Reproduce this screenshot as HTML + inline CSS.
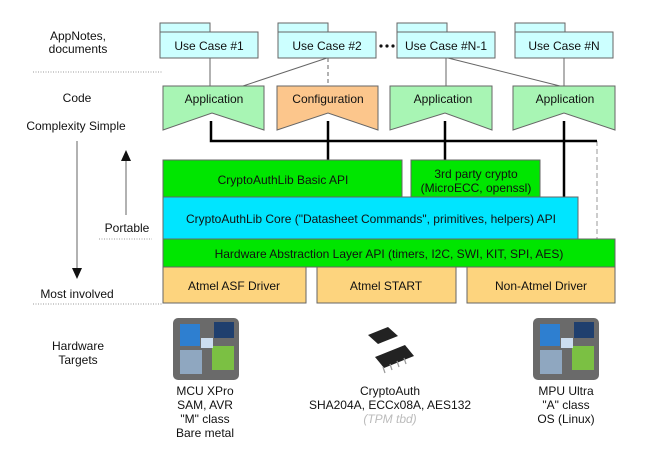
<!DOCTYPE html>
<html><head><meta charset="utf-8"><style>
html,body{margin:0;padding:0;background:#fff;}
svg{display:block;font-family:"Liberation Sans",sans-serif;}
</style></head><body>
<svg width="656" height="460" viewBox="0 0 656 460" xmlns="http://www.w3.org/2000/svg">
<g font-size="12" fill="#111">
<text x="78" y="40" text-anchor="middle">AppNotes,</text>
<text x="78" y="53" text-anchor="middle">documents</text>
<text x="77" y="102" text-anchor="middle">Code</text>
<text x="76" y="130" text-anchor="middle">Complexity Simple</text>
<text x="127" y="232" text-anchor="middle">Portable</text>
<text x="77" y="298" text-anchor="middle">Most involved</text>
<text x="78" y="350" text-anchor="middle">Hardware</text>
<text x="78" y="364" text-anchor="middle">Targets</text>
</g>
<g stroke="#999" stroke-width="1" stroke-dasharray="1,1.5">
<line x1="33" y1="72" x2="162" y2="72"/>
<line x1="99" y1="239" x2="152" y2="239"/>
<line x1="33" y1="304" x2="162" y2="304"/>
</g>
<line x1="77" y1="141" x2="77" y2="270" stroke="#999" stroke-width="1.5"/>
<polygon points="72,268 82,268 77,279" fill="#111"/>
<line x1="126" y1="215" x2="126" y2="160" stroke="#999" stroke-width="1.5"/>
<polygon points="121,161 131,161 126,150" fill="#111"/>

<g stroke="#666" stroke-width="1">
<line x1="210" y1="58" x2="210" y2="86"/>
<line x1="327" y1="58" x2="243" y2="86"/>
<line x1="328" y1="58" x2="328" y2="86" stroke-dasharray="4,3"/>
<line x1="446" y1="58" x2="446" y2="86"/>
<line x1="448" y1="58" x2="560" y2="86"/>
<line x1="564" y1="58" x2="564" y2="86"/>
<line x1="597" y1="141" x2="597" y2="240" stroke="#999" stroke-dasharray="5,3"/>
</g>
<g fill="#111"><circle cx="381" cy="46" r="1.6"/><circle cx="387" cy="46" r="1.6"/><circle cx="393" cy="46" r="1.6"/></g>

<g stroke="#666" stroke-width="1" fill="#ccffff">
<rect x="160" y="23" width="50" height="9"/><rect x="160" y="32" width="98" height="26"/>
<rect x="278" y="23" width="50" height="9"/><rect x="278" y="32" width="98" height="26"/>
<rect x="397" y="23" width="50" height="9"/><rect x="397" y="32" width="98" height="26"/>
<rect x="515" y="23" width="50" height="9"/><rect x="515" y="32" width="98" height="26"/>
</g>
<g font-size="12" fill="#111" text-anchor="middle">
<text x="209" y="50">Use Case #1</text>
<text x="327" y="50">Use Case #2</text>
<text x="446" y="50">Use Case #N-1</text>
<text x="564" y="50">Use Case #N</text>
</g>

<g stroke="#666" stroke-width="1">
<polygon points="163,86 264,86 264,130 212,113 163,130" fill="#a8f5b4"/>
<polygon points="277,86 378,86 378,130 328,113 277,130" fill="#fcc68c"/>
<polygon points="390,86 492,86 492,130 445,113 390,130" fill="#a8f5b4"/>
<polygon points="513,86 615,86 615,130 564,113 513,130" fill="#a8f5b4"/>
</g>
<g font-size="12" fill="#111" text-anchor="middle">
<text x="214" y="103">Application</text>
<text x="328" y="103">Configuration</text>
<text x="443" y="103">Application</text>
<text x="565" y="103">Application</text>
</g>

<g stroke="#000" stroke-width="2.5" fill="none">
<polyline points="211,121 211,141 597,141"/>
<line x1="328" y1="121" x2="328" y2="161"/>
<line x1="445" y1="121" x2="445" y2="161"/>
<line x1="564" y1="121" x2="564" y2="197"/>
</g>

<g stroke="#666" stroke-width="1">
<rect x="163" y="160" width="239" height="37" fill="#00e600"/>
<rect x="411" y="160" width="129" height="37" fill="#00e600"/>
<rect x="163" y="197" width="415" height="42" fill="#00e5ff"/>
<rect x="163" y="239" width="452" height="28" fill="#00e600"/>
<rect x="163" y="267" width="143" height="36" fill="#fdd47e"/>
<rect x="317" y="267" width="139" height="36" fill="#fdd47e"/>
<rect x="467" y="267" width="148" height="36" fill="#fdd47e"/>
</g>
<g font-size="12" fill="#111" text-anchor="middle">
<text x="283" y="184">CryptoAuthLib Basic API</text>
<text x="476" y="178">3rd party crypto</text>
<text x="476" y="192">(MicroECC, openssl)</text>
<text x="371" y="223">CryptoAuthLib Core ("Datasheet Commands", primitives, helpers) API</text>
<text x="389" y="258">Hardware Abstraction Layer API (timers, I2C, SWI, KIT, SPI, AES)</text>
<text x="234" y="290">Atmel ASF Driver</text>
<text x="386" y="290">Atmel START</text>
<text x="541" y="290">Non-Atmel Driver</text>
</g>

<g>
<rect x="173" y="318" width="66" height="62" rx="5" fill="#6a6a6a"/>
<rect x="180" y="324" width="20" height="22" fill="#2e7fd0"/>
<rect x="214" y="322" width="20" height="16" fill="#1f3f6e"/>
<rect x="180" y="350" width="22" height="24" fill="#8fa7c0"/>
<rect x="212" y="346" width="22" height="24" fill="#7bc043"/>
<rect x="201" y="338" width="12" height="10" fill="#cde"/>
<rect x="533" y="318" width="66" height="62" rx="5" fill="#6a6a6a"/>
<rect x="540" y="324" width="20" height="22" fill="#2e7fd0"/>
<rect x="574" y="322" width="20" height="16" fill="#1f3f6e"/>
<rect x="540" y="350" width="22" height="24" fill="#8fa7c0"/>
<rect x="572" y="346" width="22" height="24" fill="#7bc043"/>
<rect x="561" y="338" width="12" height="10" fill="#cde"/>
<polygon points="368,335 388,327 398,336 378,344" fill="#222"/>
<polygon points="375,357 405,345 414,356 384,368" fill="#222"/>
<g stroke="#999" stroke-width="1.2">
<line x1="383" y1="367" x2="385" y2="373"/><line x1="390" y1="364" x2="392" y2="370"/>
<line x1="397" y1="361" x2="399" y2="367"/><line x1="404" y1="358" x2="406" y2="364"/>
</g>
</g>
<g font-size="12" fill="#111" text-anchor="middle">
<text x="205" y="395">MCU XPro</text>
<text x="205" y="409">SAM, AVR</text>
<text x="205" y="423">"M" class</text>
<text x="205" y="437">Bare metal</text>
<text x="390" y="395">CryptoAuth</text>
<text x="390" y="409">SHA204A, ECCx08A, AES132</text>
<text x="390" y="423" fill="#bbb" font-style="italic">(TPM tbd)</text>
<text x="566" y="395">MPU Ultra</text>
<text x="566" y="409">"A" class</text>
<text x="566" y="423">OS (Linux)</text>
</g>
</svg>
</body></html>
